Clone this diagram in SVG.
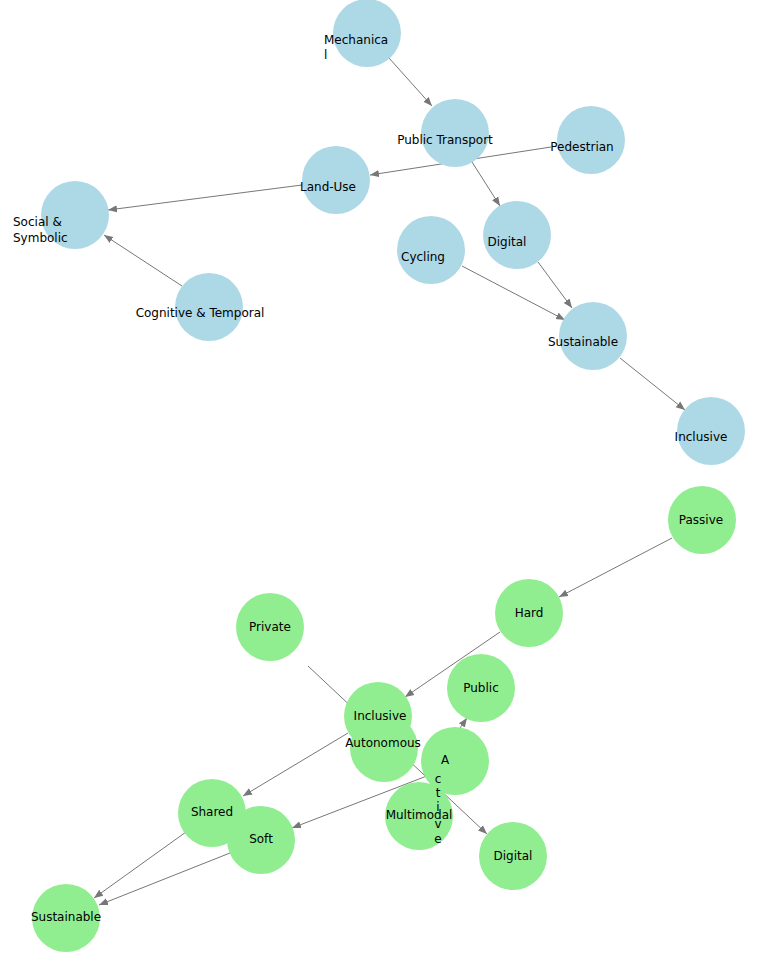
<svg xmlns="http://www.w3.org/2000/svg" width="768" height="960" viewBox="0 0 768 960">
<style>
.b{fill:#add8e6}.g{fill:#90ee90}
text{font-family:"DejaVu Sans",sans-serif;font-size:12px;fill:#000}
.e line{stroke:#777;stroke-width:1;marker-end:url(#a)}
</style>
<defs><marker id="a" viewBox="0 0 10 10" refX="10" refY="5" markerWidth="9" markerHeight="9" orient="auto" markerUnits="userSpaceOnUse"><path d="M0,1L10,5L0,9z" fill="#777"/></marker></defs>
<rect width="768" height="960" fill="#fff"/>
<g id="connectors" class="e">
<line x1="389" y1="58" x2="432" y2="106"/>
<line x1="551" y1="147" x2="370" y2="175"/>
<line x1="472" y1="162" x2="500" y2="206"/>
<line x1="302" y1="185" x2="108" y2="210"/>
<line x1="182" y1="286" x2="104" y2="235"/>
<line x1="462" y1="266" x2="565" y2="320"/>
<line x1="538" y1="262" x2="572" y2="308"/>
<line x1="620" y1="358" x2="685" y2="410"/>
<line x1="672" y1="538" x2="559" y2="597"/>
<line x1="500" y1="632" x2="405" y2="697"/>
<line x1="308" y1="666" x2="487" y2="834"/>
<line x1="348" y1="733" x2="243" y2="796"/>
<line x1="432" y1="774" x2="292" y2="828"/>
<line x1="460" y1="728" x2="467" y2="718"/>
<line x1="186" y1="832" x2="94" y2="898"/>
<line x1="230" y1="853" x2="99" y2="905"/>
</g>
<g id="nodes">
<g id="n1"><circle class="b" cx="367" cy="33" r="34"/></g>
<g id="n2"><circle class="b" cx="455" cy="133" r="34"/></g>
<g id="n3"><circle class="b" cx="591" cy="140" r="34"/></g>
<g id="n4"><circle class="b" cx="336" cy="180" r="34"/></g>
<g id="n5"><circle class="b" cx="75" cy="215" r="34"/></g>
<g id="n6"><circle class="b" cx="517" cy="235" r="34"/></g>
<g id="n7"><circle class="b" cx="431" cy="250" r="34"/></g>
<g id="n8"><circle class="b" cx="209" cy="307" r="34"/></g>
<g id="n9"><circle class="b" cx="593" cy="336" r="34"/></g>
<g id="n10"><circle class="b" cx="711" cy="431" r="34"/></g>
<g id="g1"><circle class="g" cx="702" cy="520" r="34"/></g>
<g id="g2"><circle class="g" cx="529" cy="613" r="34"/></g>
<g id="g3"><circle class="g" cx="270" cy="627" r="34"/></g>
<g id="g4"><circle class="g" cx="481" cy="688" r="34"/></g>
<g id="g5"><circle class="g" cx="384" cy="748" r="34"/></g>
<g id="g6"><circle class="g" cx="378" cy="716" r="34"/></g>
<g id="g7"><circle class="g" cx="455" cy="761" r="34"/></g>
<g id="g8"><circle class="g" cx="212" cy="813" r="34"/></g>
<g id="g9"><circle class="g" cx="261" cy="840" r="34"/></g>
<g id="g10"><circle class="g" cx="419" cy="816" r="34"/></g>
<g id="g11"><circle class="g" cx="513" cy="856" r="34"/></g>
<g id="g12"><circle class="g" cx="66" cy="918" r="34"/></g>
</g>
<g id="labels">
<text x="324" y="44">Mechanica</text><text x="324" y="59">l</text>
<text x="445" y="144" text-anchor="middle">Public Transport</text>
<text x="582" y="151" text-anchor="middle">Pedestrian</text>
<text x="328" y="191" text-anchor="middle">Land-Use</text>
<text x="13" y="226">Social &amp;</text><text x="13" y="242">Symbolic</text>
<text x="507" y="246" text-anchor="middle">Digital</text>
<text x="423" y="261" text-anchor="middle">Cycling</text>
<text x="200" y="317" text-anchor="middle">Cognitive &amp; Temporal</text>
<text x="583" y="346" text-anchor="middle">Sustainable</text>
<text x="701" y="441" text-anchor="middle">Inclusive</text>
<text x="701" y="524" text-anchor="middle">Passive</text>
<text x="529" y="617" text-anchor="middle">Hard</text>
<text x="270" y="631" text-anchor="middle">Private</text>
<text x="481" y="692" text-anchor="middle">Public</text>
<text x="380" y="720" text-anchor="middle">Inclusive</text>
<text x="383" y="747" text-anchor="middle">Autonomous</text>
<text x="212" y="816" text-anchor="middle">Shared</text>
<text x="261" y="843" text-anchor="middle">Soft</text>
<text x="419" y="819" text-anchor="middle">Multimodal</text>
<text x="445" y="764" text-anchor="middle">A</text><text x="438" y="783" text-anchor="middle">c</text><text x="438" y="797" text-anchor="middle">t</text><text x="438" y="811" text-anchor="middle">i</text><text x="438" y="828" text-anchor="middle">v</text><text x="438" y="843" text-anchor="middle">e</text>
<text x="513" y="860" text-anchor="middle">Digital</text>
<text x="66" y="921" text-anchor="middle">Sustainable</text>
</g>
</svg>
